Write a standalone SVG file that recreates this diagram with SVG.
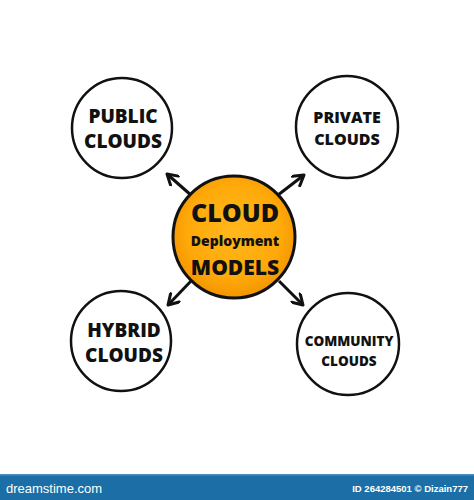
<svg xmlns="http://www.w3.org/2000/svg" width="474" height="500" viewBox="0 0 474 500">
<style>
.node{fill:#fff;stroke:#111;stroke-width:2.5}
.t{font-family:"Open Sans","DejaVu Sans",sans-serif;font-weight:800;fill:#111;text-anchor:middle}
.arrow{stroke:#111;stroke-width:3;fill:none;marker-end:url(#ah)}
.foot{font-family:"Liberation Sans",sans-serif;fill:#fff}
</style>
<defs>
<radialGradient id="og" cx="50%" cy="45%" r="55%">
<stop offset="0" stop-color="#ffb81c"/>
<stop offset="0.7" stop-color="#ffa90a"/>
<stop offset="1" stop-color="#f39500"/>
</radialGradient>
<marker id="ah" viewBox="0 0 14 14" refX="12" refY="7" markerWidth="14" markerHeight="14" orient="auto" markerUnits="userSpaceOnUse">
<path d="M2,1 L12,7 L2,13" fill="none" stroke="#111" stroke-width="3" stroke-linecap="round" stroke-linejoin="round"/>
</marker>
</defs>
<rect width="474" height="500" fill="#fff"/>
<g id="connectors">
<line class="arrow" x1="192" y1="196" x2="167" y2="174"/>
<line class="arrow" x1="278" y1="195" x2="304" y2="175"/>
<line class="arrow" x1="192" y1="280" x2="168" y2="305"/>
<line class="arrow" x1="279" y1="281" x2="303" y2="305"/>
</g>
<g id="center">
<circle cx="234" cy="237" r="61" fill="url(#og)" stroke="#111" stroke-width="3"/>
<text class="t" x="235" y="222" font-size="25">CLOUD</text>
<text class="t" x="235" y="246" font-size="14">Deployment</text>
<text class="t" x="235" y="275" font-size="21">MODELS</text>
</g>
<g id="public">
<circle class="node" cx="122" cy="128" r="50"/>
<text class="t" x="123" y="123" font-size="19">PUBLIC</text>
<text class="t" x="123" y="148" font-size="19">CLOUDS</text>
</g>
<g id="private">
<circle class="node" cx="347" cy="127" r="51"/>
<text class="t" x="347" y="123" font-size="16">PRIVATE</text>
<text class="t" x="347" y="145" font-size="16">CLOUDS</text>
</g>
<g id="hybrid">
<circle class="node" cx="121" cy="341" r="50"/>
<text class="t" x="124" y="337" font-size="19">HYBRID</text>
<text class="t" x="124" y="362" font-size="19">CLOUDS</text>
</g>
<g id="community">
<circle class="node" cx="348" cy="344" r="51"/>
<text class="t" x="349" y="346" font-size="13.5">COMMUNITY</text>
<text class="t" x="349" y="366" font-size="13.5">CLOUDS</text>
</g>
<g id="footer">
<rect x="0" y="474" width="474" height="26" fill="#1b6fa6"/>
<rect x="0" y="474" width="474" height="1.5" fill="#4a8fc0"/>
<text class="foot" x="6" y="493" font-size="13">dreamstime.com</text>
<text class="foot" x="468" y="492" font-size="9.5" font-weight="bold" text-anchor="end">ID 264284501 © Dizain777</text>
</g>
</svg>
